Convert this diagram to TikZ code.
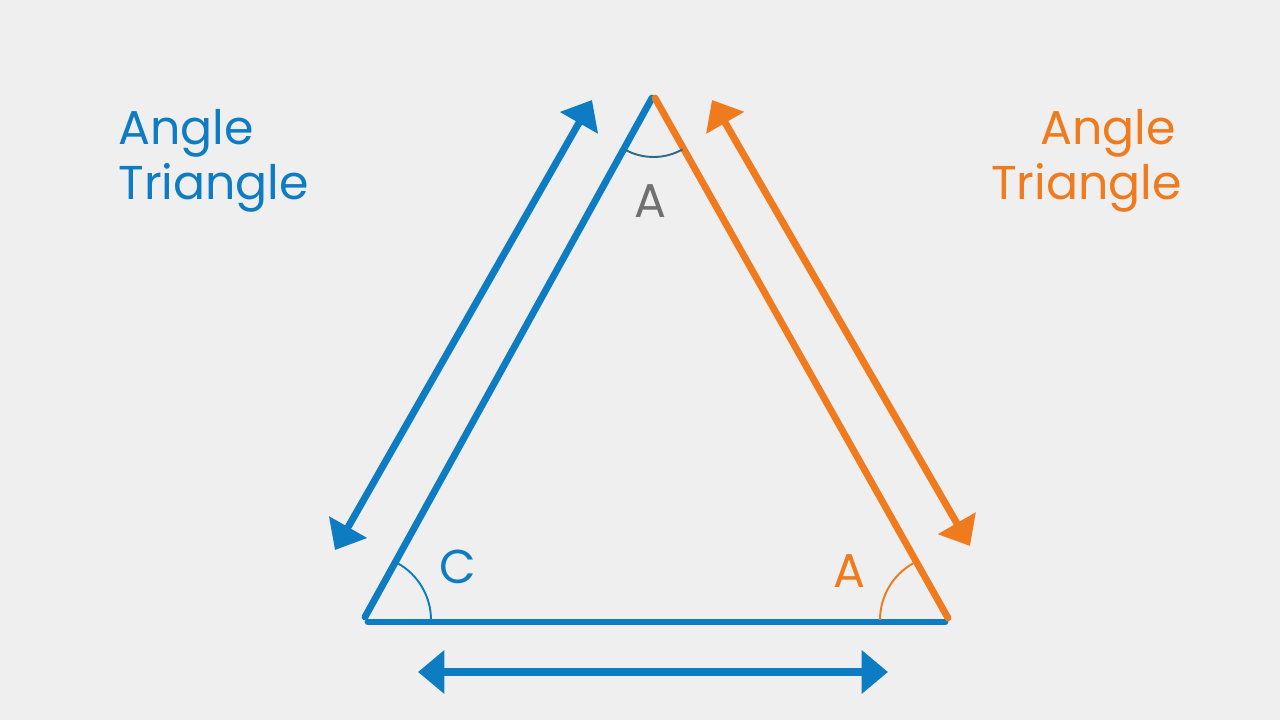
\documentclass[tikz,border=0pt]{standalone}
\usepackage{fontspec}
\setmainfont{Poppins}
\usetikzlibrary{calc, angles, arrows.meta}
\definecolor{triblue}{HTML}{0E7CC2}
\definecolor{triorange}{HTML}{F07A1E}
\definecolor{trigrey}{HTML}{707070}
\definecolor{arcteal}{HTML}{2F6B86}
\definecolor{bggrey}{HTML}{EFEFEF}

\begin{document}
\begin{tikzpicture}[
        triside/.style={line width=3.9pt, line cap=round},
        dimarrow/.style={line width=4pt, {Triangle[length=15pt,width=24pt]}-{Triangle[length=15pt,width=24pt]}},
        anglelbl/.style={font=\fontsize{27}{30}\selectfont, inner sep=0pt},
        headline/.style={font=\fontsize{27}{31}\selectfont, inner sep=0pt}
    ]
        \fill[bggrey] (0,0) rectangle (25.6,14.4);
        \useasboundingbox (0,0) rectangle (25.6,14.4);

        % corners of the triangle
        \coordinate (apex) at (13.07,12.44);
        \coordinate (apexb) at (13.04,12.44);
        \coordinate (apexo) at (13.10,12.44);
        \coordinate (bl) at (7.30,2.06);
        \coordinate (br) at (18.96,2.04);
        \coordinate (basel) at (7.36,1.96);
        \coordinate (baser) at (18.90,1.96);
        \coordinate (cornerl) at (7.32,2.00);
        \coordinate (cornerr) at (18.90,2.00);

        % arrow ends
        \coordinate (lfoot) at (6.70,3.40);
        \coordinate (lhead) at (11.84,12.40);
        \coordinate (rhead) at (14.24,12.40);
        \coordinate (rfoot) at (19.40,3.48);
        \coordinate (bleft) at (8.36,0.96);
        \coordinate (bright) at (17.76,0.96);

        \draw[triside, triblue] (basel) -- (baser);
        \draw[triside, triblue] (bl) -- (apexb);
        \draw[triside, triorange] (apexo) -- (br);

        \draw[dimarrow, triblue] (lfoot) -- (lhead);
        \draw[dimarrow, triorange] (rhead) -- (rfoot);
        \draw[dimarrow, triblue, line width=4.4pt] (bleft) -- (bright);

        \pic[draw=arcteal, line width=1.1pt, angle radius=1.18cm] {angle = bl--apex--br};
        \pic[draw=triblue, line width=1.1pt, angle radius=1.3cm] {angle = cornerr--cornerl--apex};
        \pic[draw=triorange, line width=1.1pt, angle radius=1.3cm] {angle = apex--cornerr--cornerl};

        \node[anglelbl, trigrey] (topA) at (13.00,10.38) {A};
        \node[anglelbl, triblue] (leftC) at (9.16,3.06) {C};
        \node[anglelbl, triorange] (rightA) at (16.98,2.98) {A};

        \node[headline, triblue, anchor=base west] (blueangle) at (2.36,11.50) {Angle};
        \node[headline, triblue, anchor=base west] (bluetri) at (2.36,10.40) {Triangle};
        \node[headline, triorange, anchor=base east] (orangeangle) at (23.52,11.50) {Angle};
        \node[headline, triorange, anchor=base east] (orangetri) at (23.64,10.40) {Triangle};
    \end{tikzpicture}
\end{document}
